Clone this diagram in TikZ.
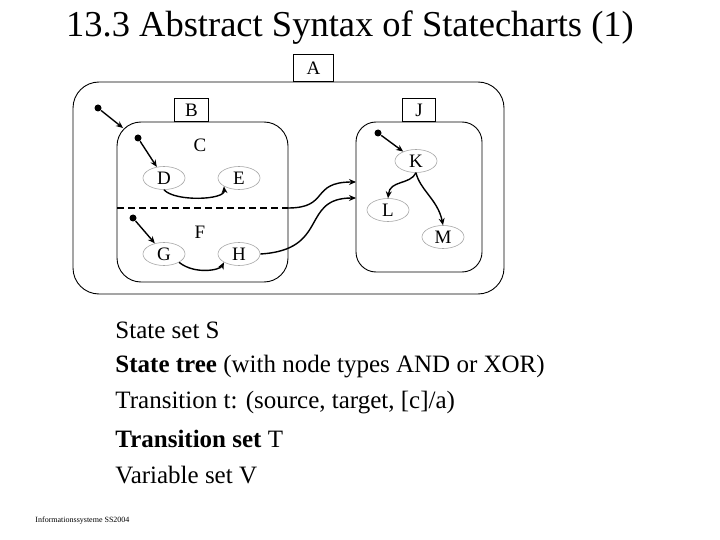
\documentclass[tikz,border=0pt]{standalone}
\usepackage{fontspec}
\setmainfont{Liberation Serif}
\usetikzlibrary{arrows.meta,shapes.geometric}
\begin{document}
\begin{tikzpicture}[x=1pt,y=-1pt,line width=0.9pt,
  st/.style={ellipse,draw=black!35,line width=0.6pt,minimum width=42,minimum height=23,inner sep=0pt,font=\fontsize{19}{19}\selectfont},
  lab/.style={draw,rectangle,inner sep=0pt,font=\fontsize{19}{19}\selectfont},
  tr/.style={line width=1.4pt,-{Stealth[length=7pt,width=6pt]}},
  dot/.style={circle,fill=black,inner sep=0pt,minimum size=7pt},
  body/.style={anchor=west,inner sep=0pt,font=\fontsize{25}{25}\selectfont}]
\useasboundingbox (0,0) rectangle (720,540);
\node[font=\fontsize{36.5}{36.5}\selectfont] (title) at (350,28) {13.3 Abstract Syntax of Statecharts (1)};
% A
\draw[rounded corners=26] (73,82) rectangle (504,294);
\node[lab,minimum width=40,minimum height=27,anchor=south west] (A) at (293,82) {A};
% B
\draw[rounded corners=24] (117,122) rectangle (288,282);
\node[lab,minimum width=34,minimum height=23,anchor=south west] (B) at (174,122) {B};
\draw[line width=1.4pt,dash pattern=on 7pt off 4pt] (117,208) -- (288,208);
\node[font=\fontsize{19}{19}\selectfont] (C) at (200,145) {C};
\node[font=\fontsize{19}{19}\selectfont] (F) at (200,232) {F};
% J
\draw[rounded corners=20] (356,122) rectangle (482,272);
\node[lab,minimum width=33,minimum height=23,anchor=south west] (J) at (402,122) {J};
% states
\node[st] (D) at (164,178) {D};
\node[st] (E) at (239,178) {E};
\node[st] (G) at (164,254) {G};
\node[st] (H) at (239,254) {H};
\node[st] (K) at (416,161) {K};
\node[st] (L) at (388,210) {L};
\node[st] (M) at (443,237) {M};
% initial
\node[dot] (i0) at (98,108) {};
\coordinate (b0) at (123,128);
\draw[tr] (i0) -- (b0);
\node[dot] (i1) at (138,138) {};
\draw[tr] (i1) -- (D);
\node[dot] (i2) at (133,218) {};
\draw[tr] (i2) -- (G);
\node[dot] (i3) at (378,133) {};
\draw[tr] (i3) -- (K);
% transitions
\draw[tr] (D.south) .. controls (175,202) and (225,200) .. (E.south west);
\draw[tr] (G.south east) .. controls (195,275) and (220,270) .. (H.south west);
\coordinate (j1) at (356,182);
\coordinate (j2) at (356,198);
\draw[tr] (288,208) .. controls (330,208) and (310,182) .. (j1);
\draw[tr] (H.east) .. controls (330,250) and (300,198) .. (j2);
\draw[tr] (K.south) .. controls (410,185) and (390,180) .. (L.north);
\draw[tr] (K.south) .. controls (420,190) and (438,200) .. (M.north);
% text
\node[body] (t1) at (115,330) {State set S};
\node[body] (t2) at (115,367) {\textbf{State tree} (with node types AND or XOR)};
\node[body] (t3) at (115,403) {Transition t: (source, target, [c]/a)};
\node[body] (t4) at (115,439) {\textbf{Transition set} T};
\node[body] (t5) at (115,475) {Variable set V};
\node[anchor=west,inner sep=0pt,font=\fontsize{8}{8}\selectfont] (foot) at (35,521) {Informationssysteme SS2004};
\end{tikzpicture}
\end{document}
